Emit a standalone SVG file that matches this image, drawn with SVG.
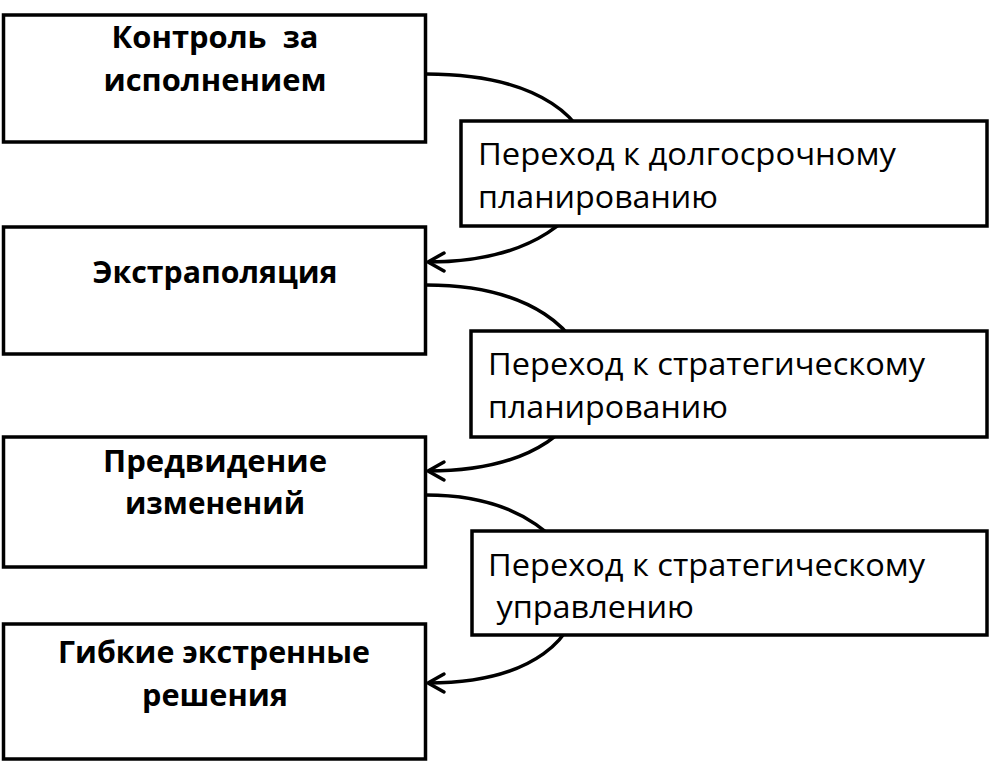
<svg xmlns="http://www.w3.org/2000/svg" width="990" height="764" viewBox="0 0 990 764">
<style>
.box{fill:#fff;stroke:#000;stroke-width:3.5}
.conn{fill:none;stroke:#000;stroke-width:3.5}
.lt{font-family:"Open Sans","Liberation Sans",sans-serif;font-weight:bold;font-size:31px;fill:#000;text-anchor:middle}
.rt{font-family:"Open Sans","Liberation Sans",sans-serif;font-size:31px;fill:#000}
</style>
<defs>
<marker id="arr" markerUnits="userSpaceOnUse" markerWidth="30" markerHeight="30" viewBox="-20 -15 30 30" refX="0" refY="0" orient="auto">
<path d="M-16,-9 L0,0 L-16,9" fill="none" stroke="#000" stroke-width="3.5" stroke-linecap="round" stroke-linejoin="round"/>
</marker>
</defs>
<rect width="990" height="764" fill="#fff"/>
<g id="connectors">
<path class="conn" d="M426,74 C654,74 637,262 428,262" marker-end="url(#arr)"/>
<path class="conn" d="M426,285 C635,285 642,471 428,471" marker-end="url(#arr)"/>
<path class="conn" d="M426,495 C615,495 640,683 428,683" marker-end="url(#arr)"/>
</g>
<g id="n1">
<rect class="box" x="3.5" y="15" width="422" height="127"/>
<text class="lt" x="215" y="48" xml:space="preserve" textLength="207" lengthAdjust="spacingAndGlyphs">Контроль  за</text>
<text class="lt" x="215" y="91" textLength="223" lengthAdjust="spacingAndGlyphs">исполнением</text>
</g>
<g id="n2">
<rect class="box" x="3.5" y="227" width="422" height="127"/>
<text class="lt" x="215" y="283" textLength="245" lengthAdjust="spacingAndGlyphs">Экстраполяция</text>
</g>
<g id="n3">
<rect class="box" x="3.5" y="437" width="422" height="130"/>
<text class="lt" x="215" y="472" textLength="224" lengthAdjust="spacingAndGlyphs">Предвидение</text>
<text class="lt" x="215" y="514" textLength="180" lengthAdjust="spacingAndGlyphs">изменений</text>
</g>
<g id="n4">
<rect class="box" x="3.5" y="624" width="422" height="135"/>
<text class="lt" x="214" y="663" textLength="312" lengthAdjust="spacingAndGlyphs">Гибкие экстренные</text>
<text class="lt" x="215" y="706" textLength="146" lengthAdjust="spacingAndGlyphs">решения</text>
</g>
<g id="l1">
<rect class="box" x="461" y="121" width="526" height="105"/>
<text class="rt" x="478" y="165" textLength="418" lengthAdjust="spacingAndGlyphs">Переход к долгосрочному</text>
<text class="rt" x="478" y="208" textLength="240" lengthAdjust="spacingAndGlyphs">планированию</text>
</g>
<g id="l2">
<rect class="box" x="471" y="331" width="516" height="106"/>
<text class="rt" x="488" y="375" textLength="437" lengthAdjust="spacingAndGlyphs">Переход к стратегическому</text>
<text class="rt" x="488" y="418" textLength="240" lengthAdjust="spacingAndGlyphs">планированию</text>
</g>
<g id="l3">
<rect class="box" x="472" y="531" width="515" height="104"/>
<text class="rt" x="488" y="576" textLength="437" lengthAdjust="spacingAndGlyphs">Переход к стратегическому</text>
<text class="rt" x="488" y="618" xml:space="preserve" textLength="206" lengthAdjust="spacingAndGlyphs"> управлению</text>
</g>
</svg>
